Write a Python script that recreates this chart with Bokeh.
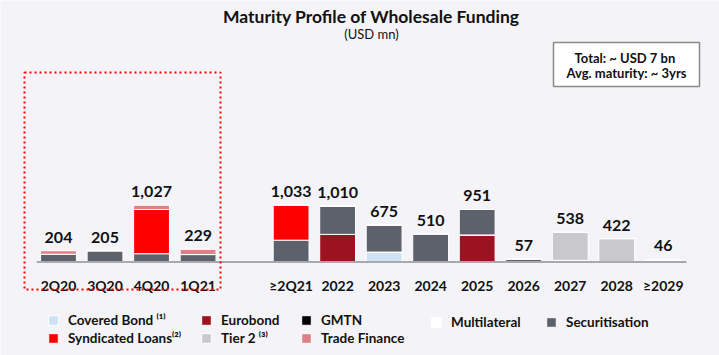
from bokeh.plotting import figure
from bokeh.models import (ColumnDataSource, Range1d, LinearAxis, FixedTicker, Legend,
                          LegendItem, BoxAnnotation, Label, LabelSet)
from bokeh.core.properties import value
from bokeh.embed import file_html
from bokeh.resources import INLINE

# ---------------- data ----------------
categories = ["2Q20", "3Q20", "4Q20", "1Q21", "≥2Q21", "2022", "2023", "2024",
              "2025", "2026", "2027", "2028", "≥2029"]
totals = [204, 205, 1027, 229, 1033, 1010, 675, 510, 951, 57, 538, 422, 46]
covered_bond   = [0, 0, 0, 0, 0, 0, 180, 0, 0, 0, 0, 0, 0]
eurobond       = [0, 0, 0, 0, 0, 500, 0, 0, 490, 0, 0, 0, 0]
gmtn           = [0, 0, 0, 0, 0, 0, 0, 0, 0, 0, 0, 0, 0]
multilateral   = [0, 0, 0, 0, 0, 0, 0, 0, 0, 0, 0, 0, 46]
securitisation = [140, 205, 150, 135, 395, 510, 490, 510, 461, 57, 30, 0, 0]
syndicated     = [0, 0, 800, 0, 638, 0, 0, 0, 0, 0, 0, 0, 0]
tier2          = [0, 0, 0, 0, 0, 0, 0, 0, 0, 0, 508, 422, 0]
trade_finance  = [64, 0, 77, 94, 0, 0, 5, 0, 0, 0, 0, 0, 0]

series_keys = ["covered", "eurobond", "gmtn", "multilateral", "securitisation",
               "syndicated", "tier2", "trade"]
series_labels = ["Covered Bond ⁽¹⁾", "Eurobond", "GMTN", "Multilateral", "Securitisation",
                 "Syndicated Loans⁽²⁾", "Tier 2 ⁽³⁾", "Trade Finance"]
series_colors = ["#cfe2f5", "#9b1220", "#000000", "#ffffff", "#5d616b",
                 "#ff0000", "#c9c9cd", "#df8086"]

# ---------------- layout helpers ----------------
W, H = 719, 355
SLOT_PX = 46.52
X0_PX = 58.0
UNIT_PER_PX = 18.1
BASE_PX = 261.5
FONT = "Lato"
INK = "#111111"

def px2x(px):
    return (px - X0_PX) / SLOT_PX

def px2y(py):
    return (BASE_PX - py) * UNIT_PER_PX

xpos = [i if i < 4 else i + 1 for i in range(len(categories))]

src = ColumnDataSource(dict(
    x=xpos, cat=categories, total=totals,
    covered=covered_bond, eurobond=eurobond, gmtn=gmtn, multilateral=multilateral,
    securitisation=securitisation, syndicated=syndicated, tier2=tier2, trade=trade_finance,
    label=[f"{t:,}" for t in totals],
))

BG = "#f4f4f8"
p = figure(width=W, height=H, output_backend="svg", toolbar_location=None,
           x_range=Range1d(px2x(0), px2x(W)), y_range=Range1d(px2y(H), px2y(0)),
           x_axis_location=None, y_axis_location=None,
           min_border=0, min_border_left=0, min_border_right=0,
           min_border_top=0, min_border_bottom=0)
p.background_fill_color = BG
p.border_fill_color = BG
p.outline_line_color = None
p.xgrid.visible = False
p.ygrid.visible = False

renderers = p.vbar_stack(series_keys, x="x", width=0.77, source=src,
                         color=series_colors, line_color="white", line_width=1)

# baseline
p.line(x=[xpos[0] - 0.47, xpos[-1] + 0.5], y=[0, 0], line_color="#a9a9ad", line_width=2)

# axis labels
ax = LinearAxis(fixed_location=0, ticker=FixedTicker(ticks=xpos),
                major_label_overrides={x: c for x, c in zip(xpos, categories)})
ax.axis_line_color = None
ax.major_tick_line_color = None
ax.minor_tick_line_color = None
ax.major_label_standoff = 9
ax.major_label_text_font = FONT
ax.major_label_text_font_style = "bold"
ax.major_label_text_font_size = "14px"
ax.major_label_text_color = INK
p.add_layout(ax, "below")

# value labels
labels = LabelSet(x="x", y="total", text="label", source=src, text_align="center",
                  text_baseline="alphabetic", y_offset=8, text_font=value(FONT),
                  text_font_style="bold", text_font_size="16px", text_color=INK)
p.add_layout(labels)

# legend: one small legend per column, top-aligned
ROW_H, ROW_GAP, LEG_TOP = 14, 2, 316
legend_columns = [[0, 5], [1, 6], [2, 7], [3], [4]]
legend_col_px = [50, 203, 303, 433, 548]
for col, xpx in zip(legend_columns, legend_col_px):
    items = [LegendItem(label=series_labels[i], renderers=[renderers[i]]) for i in col]
    h = ROW_H * len(col) + ROW_GAP * (len(col) - 1)
    lg = Legend(items=items, orientation="vertical",
                location=(xpx - 3, H - LEG_TOP - h), padding=0, margin=0, spacing=ROW_GAP,
                glyph_width=12, glyph_height=12, label_standoff=9, label_height=ROW_H,
                label_text_font=FONT, label_text_font_style="bold",
                label_text_font_size="13.5px", label_text_color=INK,
                border_line_color=None, background_fill_alpha=0)
    p.add_layout(lg)

# dotted highlight box
p.add_layout(BoxAnnotation(left=px2x(24), right=px2x(220), top=px2y(72), bottom=px2y(289),
                           fill_alpha=0, line_color="#ff0000", line_alpha=1, line_width=2,
                           line_dash="2 3"))

# summary box
p.add_layout(BoxAnnotation(left=px2x(553), right=px2x(699), top=px2y(42), bottom=px2y(86),
                           fill_color="white", fill_alpha=1, line_color="#8a8a8a",
                           line_alpha=1, line_width=1.5))
for txt, ypx in [("Total:  ~ USD 7 bn", 57), ("Avg. maturity: ~ 3yrs", 72)]:
    p.add_layout(Label(x=px2x(626), y=px2y(ypx), text=txt, text_align="center",
                       text_baseline="middle", text_font=FONT, text_font_style="bold",
                       text_font_size="13px", text_color=INK))

# title
p.add_layout(Label(x=px2x(371), y=px2y(16), text="Maturity Profile of Wholesale Funding",
                   text_align="center", text_baseline="middle", text_font=FONT,
                   text_font_style="bold", text_font_size="17.5px", text_color=INK))
p.add_layout(Label(x=px2x(371), y=px2y(33), text="(USD mn)", text_align="center",
                   text_baseline="middle", text_font=FONT, text_font_size="13px",
                   text_color=INK))

open("out.html", "w").write(file_html(p, INLINE))
